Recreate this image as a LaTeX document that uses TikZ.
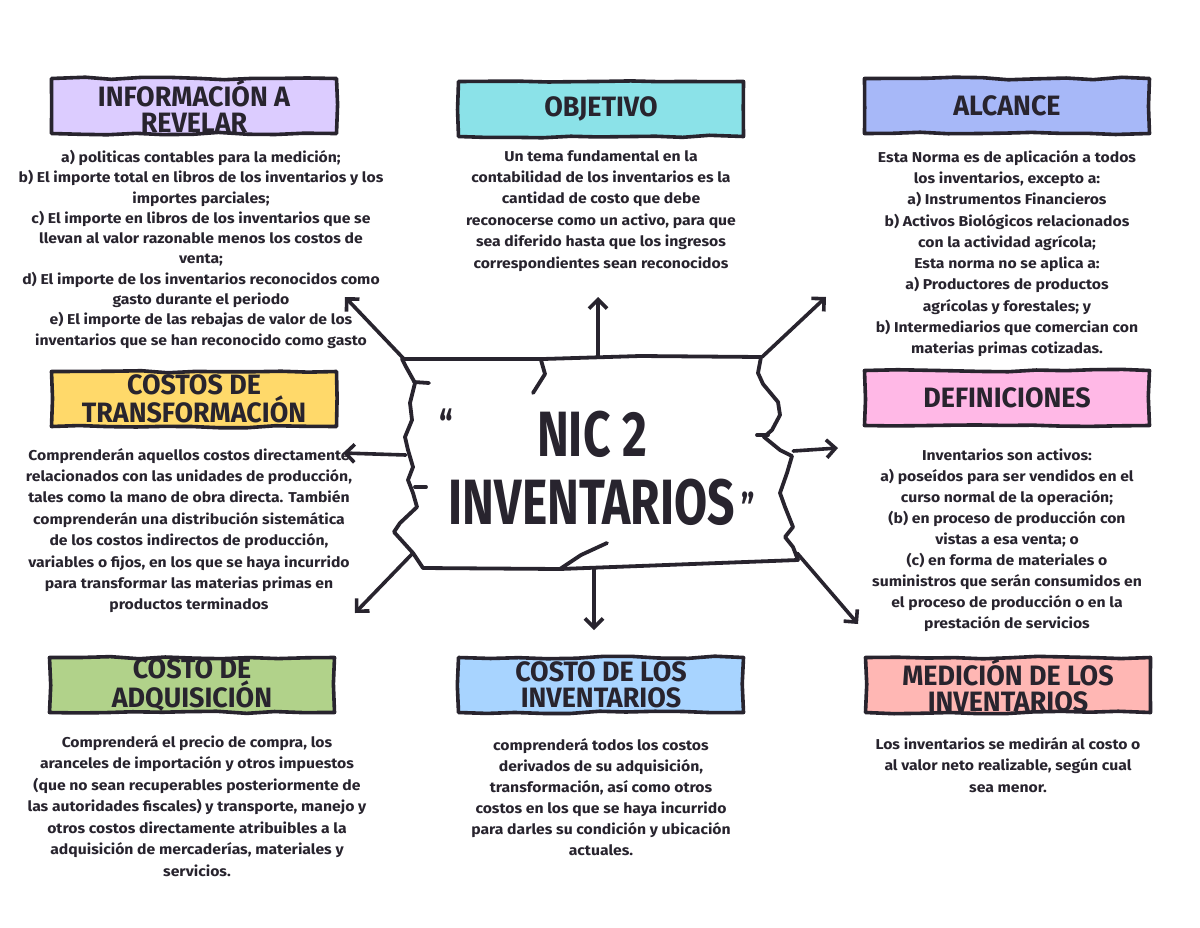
\documentclass[tikz,border=0pt]{standalone}
\usepackage{fontspec}
\setmainfont{Fira Sans}[FakeStretch=1.1]
\newfontfamily\headfont[FakeStretch=0.96]{Fira Sans}
\newfontfamily\titlefont[FakeStretch=0.75]{Fira Sans}
\usepackage{tikz}
\usetikzlibrary{arrows.meta, positioning, calc, decorations.pathmorphing}
\definecolor{inkdark}{RGB}{40, 36, 46}
\definecolor{lilac}{RGB}{220, 204, 255}
\definecolor{aqua}{RGB}{139, 226, 232}
\definecolor{periwinkle}{RGB}{167, 184, 248}
\definecolor{mustard}{RGB}{255, 217, 106}
\definecolor{bubblegum}{RGB}{255, 184, 230}
\definecolor{sage}{RGB}{177, 210, 138}
\definecolor{skyblue}{RGB}{168, 212, 255}
\definecolor{salmon}{RGB}{255, 183, 180}
\tikzset{
  headbox/.style={draw=inkdark, line width=3.6pt, line join=round,
    minimum width=285pt, minimum height=55pt, inner sep=0pt, align=center,
    text=inkdark, font=\headfont\bfseries\fontsize{28}{26}\selectfont,
    decorate, decoration={random steps, segment length=28pt, amplitude=1.3pt}},
  bodytext/.style={anchor=north, inner sep=0pt, align=center, text=inkdark},
  pointer/.style={inkdark, line width=3.6pt, line cap=round,
    -{Straight Barb[length=9pt, width=18pt, line width=3.6pt]}},
  crack/.style={inkdark, line width=3.8pt, line cap=round, line join=round},
}
\newcommand{\topicbox}[4]{%
  \node[headbox, fill=#3] (#1) at (#2) {#4};
}
\newcommand{\bodyfont}[1]{\bfseries\fontsize{14.3}{#1}\selectfont}

\begin{document}
\begin{tikzpicture}[x=1pt, y=-1pt]
    \pgfmathsetseed{17}
    \fill[white] (0,0) rectangle (1200,927);
    \useasboundingbox (0,0) rectangle (1200,927);
    % Topic headers
    \topicbox{info}{194,106}{lilac}{INFORMACIÓN A\\REVELAR}
    \topicbox{objetivo}{601,109}{aqua}{OBJETIVO}
    \topicbox{alcance}{1007,106}{periwinkle}{ALCANCE}
    \topicbox{transf}{194,399}{mustard}{COSTOS DE\\TRANSFORMACIÓN}
    \topicbox{defin}{1007,398}{bubblegum}{DEFINICIONES}
    \topicbox{adqui}{192,685}{sage}{COSTO DE\\ADQUISICIÓN}
    \topicbox{costinv}{601,685}{skyblue}{COSTO DE LOS\\INVENTARIOS}
    \topicbox{medic}{1008,685}{salmon}{MEDICIÓN DE LOS\\INVENTARIOS}
    % Topic texts
    \node[bodytext, font=\bodyfont{20.3}] (infotxt) at (201,150) {a) politicas contables para la medición;\\
      b) El importe total en libros de los inventarios y los\\importes parciales;\\
      c) El importe en libros de los inventarios que se\\llevan al valor razonable menos los costos de\\venta;\\
      d) El importe de los inventarios reconocidos como\\gasto durante el periodo\\
      e) El importe de las rebajas de valor de los\\inventarios que se han reconocido como gasto};
    \node[bodytext, font=\bodyfont{21.4}] (objtxt) at (601,150) {Un tema fundamental en la\\
      contabilidad de los inventarios es la\\cantidad de costo que debe\\
      reconocerse como un activo, para que\\sea diferido hasta que los ingresos\\
      correspondientes sean reconocidos};
    \node[bodytext, font=\bodyfont{21.3}] (alctxt) at (1007,150) {Esta Norma es de aplicación a todos\\
      los inventarios, excepto a:\\a) Instrumentos Financieros\\
      b) Activos Biológicos relacionados\\con la actividad agrícola;\\Esta norma no se aplica a:\\
      a) Productores de productos\\agrícolas y forestales; y\\
      b) Intermediarios que comercian con\\materias primas cotizadas.};
    \node[bodytext, font=\bodyfont{21.4}] (transftxt) at (189,448) {Comprenderán aquellos costos directamente\\
      relacionados con las unidades de producción,\\tales como la mano de obra directa. También\\
      comprenderán una distribución sistemática\\de los costos indirectos de producción,\\
      variables o fijos, en los que se haya incurrido\\para transformar las materias primas en\\
      productos terminados};
    \node[bodytext, font=\bodyfont{21}] (deftxt) at (1007,449) {Inventarios son activos:\\
      a) poseídos para ser vendidos en el\\curso normal de la operación;\\
      (b) en proceso de producción con\\vistas a esa venta; o\\(c) en forma de materiales o\\
      suministros que serán consumidos en\\el proceso de producción o en la\\
      prestación de servicios};
    \node[bodytext, font=\bodyfont{21.5}] (adquitxt) at (197,735) {Comprenderá el precio de compra, los\\
      aranceles de importación y otros impuestos\\(que no sean recuperables posteriormente de\\
      las autoridades fiscales) y transporte, manejo y\\otros costos directamente atribuibles a la\\
      adquisición de mercaderías, materiales y\\servicios.};
    \node[bodytext, font=\bodyfont{21}] (costtxt) at (601,738) {comprenderá todos los costos\\
      derivados de su adquisición,\\transformación, así como otros\\
      costos en los que se haya incurrido\\para darles su condición y ubicación\\actuales.};
    \node[bodytext, font=\bodyfont{21.5}] (medtxt) at (1008,737) {Los inventarios se medirán al costo o\\
      al valor neto realizable, según cual\\sea menor.};
    % Central sign
    \node[minimum width=400pt, minimum height=212pt] (nic) at (600,462) {};
    \draw[crack, fill=white]
      (402,359) -- (543,359) -- (640,356) -- (761,357) -- (758,373) -- (763,384)
      -- (778,402) -- (780,415) -- (772,430) -- (764,437) -- (780,450) -- (792,456)
      -- (787,473) -- (780,493) -- (785,507) -- (793,527) -- (785,537) -- (793,547)
      -- (798,560) -- (560,569) -- (423,568) -- (413,553) -- (394,532) -- (400,523)
      -- (417,507) -- (413,493) -- (408,480) -- (413,467) -- (408,450) -- (405,437)
      -- (412,420) -- (410,403) -- (415,383) -- (405,365) -- cycle;
    \draw[crack] (541,360) -- (545,374) -- (533,393);
    \draw[crack] (607,543) -- (581,555) -- (560,569);
    \draw[crack] (414,382) -- (429,383);
    \draw[crack] (415,487) -- (426,487);
    \draw[crack] (757,435) -- (768,435);
    \node[text=inkdark, font=\titlefont\bfseries\fontsize{64}{68}\selectfont, align=center]
      (nictitle) at (592,468) {NIC 2\\INVENTARIOS};
    \node[text=inkdark, font=\titlefont\bfseries\fontsize{40}{40}\selectfont]
      (qopen) at (446,424) {“};
    \node[text=inkdark, font=\titlefont\bfseries\fontsize{40}{40}\selectfont]
      (qclose) at (748,507) {”};
    % Arrows out of the sign
    \coordinate (infoend) at (345,297);
    \coordinate (objend) at (598,297);
    \coordinate (alcend) at (826,297);
    \coordinate (transfend) at (343,453);
    \coordinate (defend) at (838,448);
    \coordinate (adquiend) at (355,613);
    \coordinate (costend) at (594,630);
    \coordinate (medicend) at (858,624);
    \draw[pointer] ($(nic.north west)+(4,3)$) -- (infoend);
    \draw[pointer] ($(nic.north)+(-2,0)$) -- (objend);
    \draw[pointer] ($(nic.north east)+(-38,1)$) -- (alcend);
    \draw[pointer] ($(nic.west)+(6,-7)$) -- (transfend);
    \draw[pointer] ($(nic.east)+(-7,-11)$) -- (defend);
    \draw[pointer] ($(nic.south west)+(13,-15)$) -- (adquiend);
    \draw[pointer] ($(nic.south)+(-6,1)$) -- (costend);
    \draw[pointer] ($(nic.south east)+(-3,-15)$) -- (medicend);
  \end{tikzpicture}
\end{document}
